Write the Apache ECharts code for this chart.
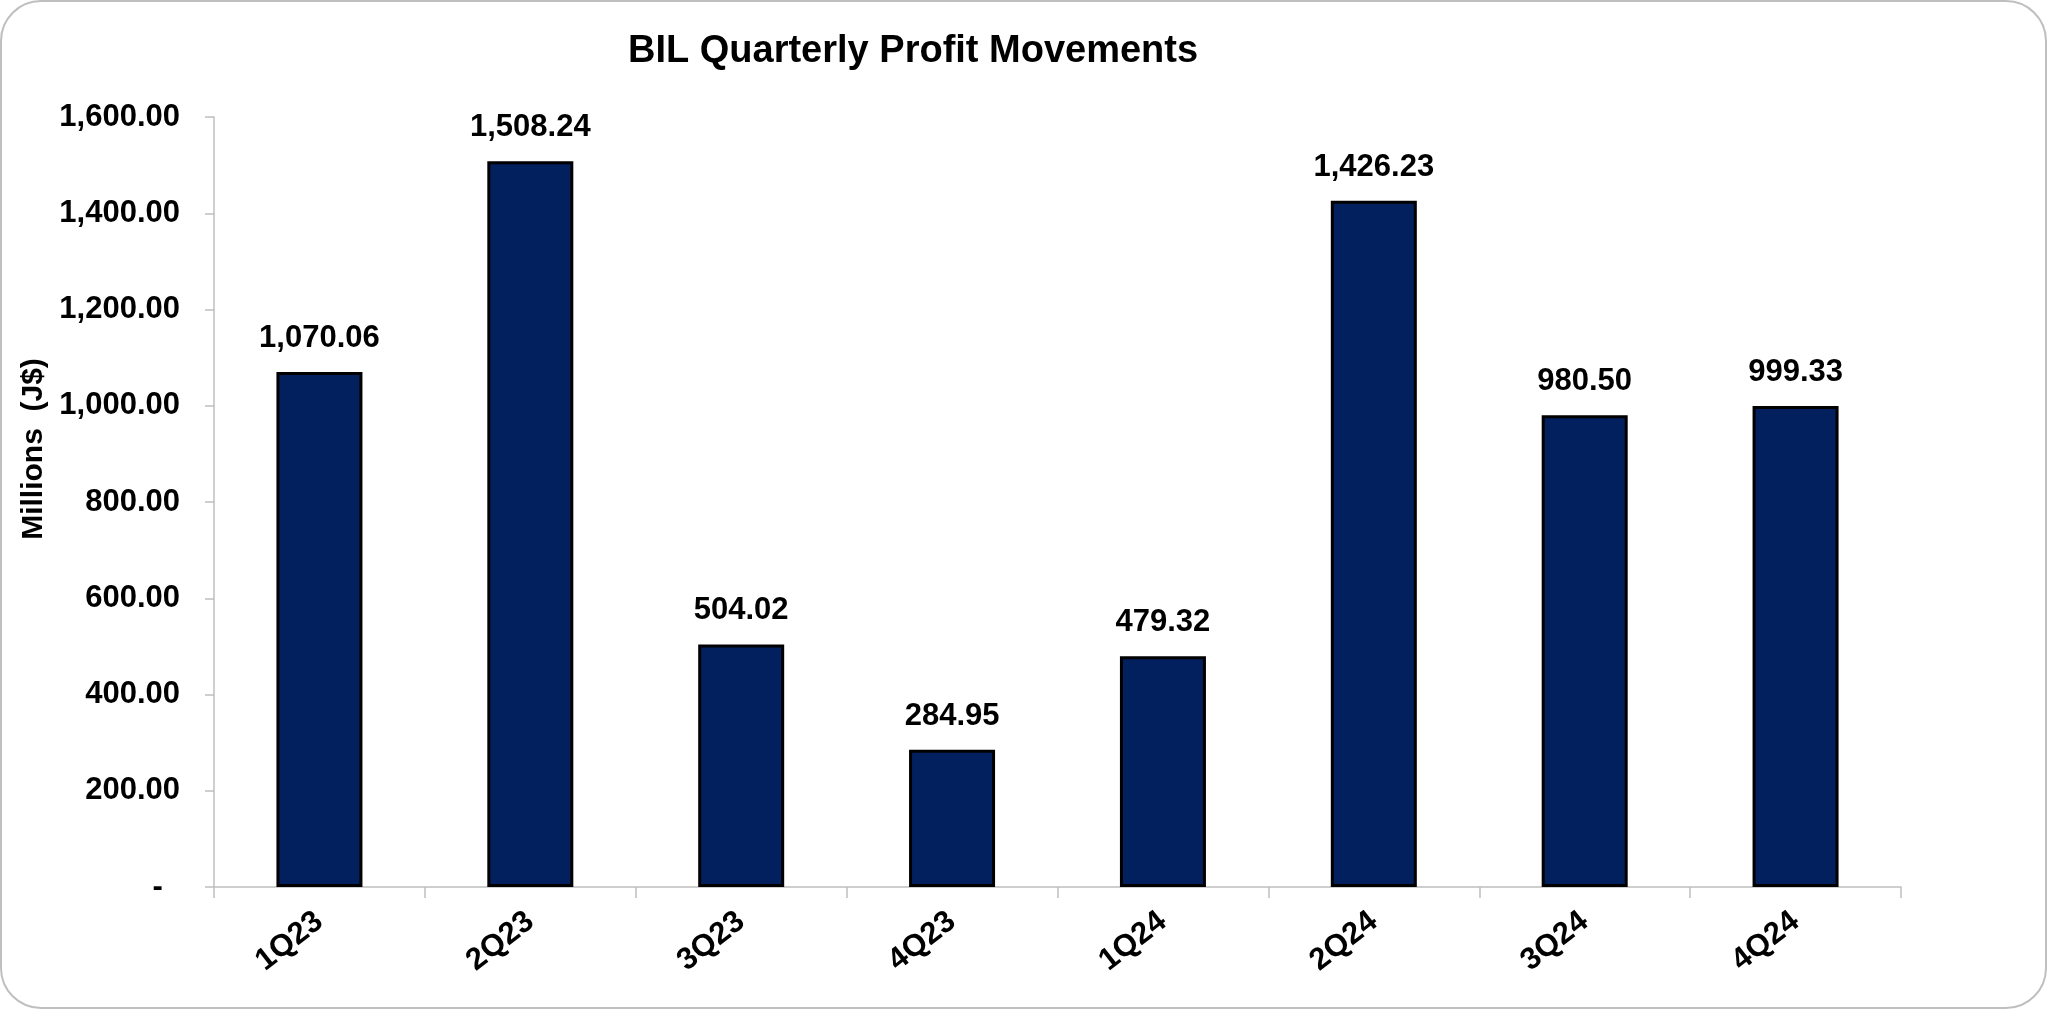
<!DOCTYPE html>
<html>
<head>
<meta charset="utf-8">
<script src="https://cdn.jsdelivr.net/npm/echarts@6/dist/echarts.min.js"></script>
<style>
  html, body { margin: 0; padding: 0; background: #fff; }
  #echart-box { width: 2048px; height: 1010px; }
</style>
</head>
<body>
<div id="echart-box"></div>
<script>
var quarters = ['1Q23', '2Q23', '3Q23', '4Q23', '1Q24', '2Q24', '3Q24', '4Q24'];
var profit = [1070.06, 1508.24, 504.02, 284.95, 479.32, 1426.23, 980.50, 999.33];

function fmt(v) {
  return v.toLocaleString('en-US', { minimumFractionDigits: 2, maximumFractionDigits: 2 });
}

function init() {
  const element = document.getElementById('echart-box');
  const instance = echarts.init(element);
  const font = '"Liberation Sans", Arial, sans-serif';

  var option = {
    animation: false,
    backgroundColor: '#fff',
    graphic: [{
      type: 'rect',
      shape: { x: 1, y: 1, width: 2045, height: 1007, r: 40 },
      style: { fill: 'none', stroke: '#bfbfbf', lineWidth: 2 },
      silent: true
    }],
    title: {
      text: 'BIL Quarterly Profit Movements',
      left: 623,
      top: 28,
      textStyle: { fontFamily: font, fontWeight: 'bold', fontSize: 38, color: '#000' }
    },
    grid: { left: 214, right: 147, top: 117, bottom: 123 },
    xAxis: {
      type: 'category',
      data: quarters,
      axisLine: { lineStyle: { color: '#bfbfbf', width: 1.5 } },
      axisTick: { show: true, length: 11, lineStyle: { color: '#bfbfbf', width: 1.5 } },
      axisLabel: {
        rotate: 38,
        margin: 31,
        fontFamily: font,
        fontWeight: 'bold',
        fontSize: 31,
        color: '#000'
      }
    },
    yAxis: {
      type: 'value',
      min: 0,
      max: 1600,
      interval: 200,
      name: 'Millions  (J$)',
      nameLocation: 'middle',
      nameGap: 164,
      nameTextStyle: {
        fontFamily: font, fontWeight: 'bold', fontSize: 30, color: '#000',
        padding: [0, 0, 0, 106]
      },
      splitLine: { show: false },
      axisLine: { show: true, lineStyle: { color: '#bfbfbf', width: 1.5 } },
      axisTick: { show: true, length: 9, lineStyle: { color: '#bfbfbf', width: 1.5 } },
      axisLabel: {
        margin: 34,
        fontFamily: font,
        fontWeight: 'bold',
        fontSize: 31,
        color: '#000',
        formatter: function (v) { return v === 0 ? '-  ' : fmt(v); }
      }
    },
    series: [{
      type: 'bar',
      data: profit,
      barWidth: 86,
      itemStyle: { color: '#02205e', borderColor: '#000', borderWidth: 3 },
      label: {
        show: true,
        position: 'top',
        distance: 18,
        fontFamily: font,
        fontWeight: 'bold',
        fontSize: 31,
        color: '#000',
        formatter: function (p) { return fmt(p.value); }
      }
    }]
  };
  option && instance.setOption(option);

  window.onresize = function () {
    instance.resize();
  };
}
init();
</script>
</body>
</html>
